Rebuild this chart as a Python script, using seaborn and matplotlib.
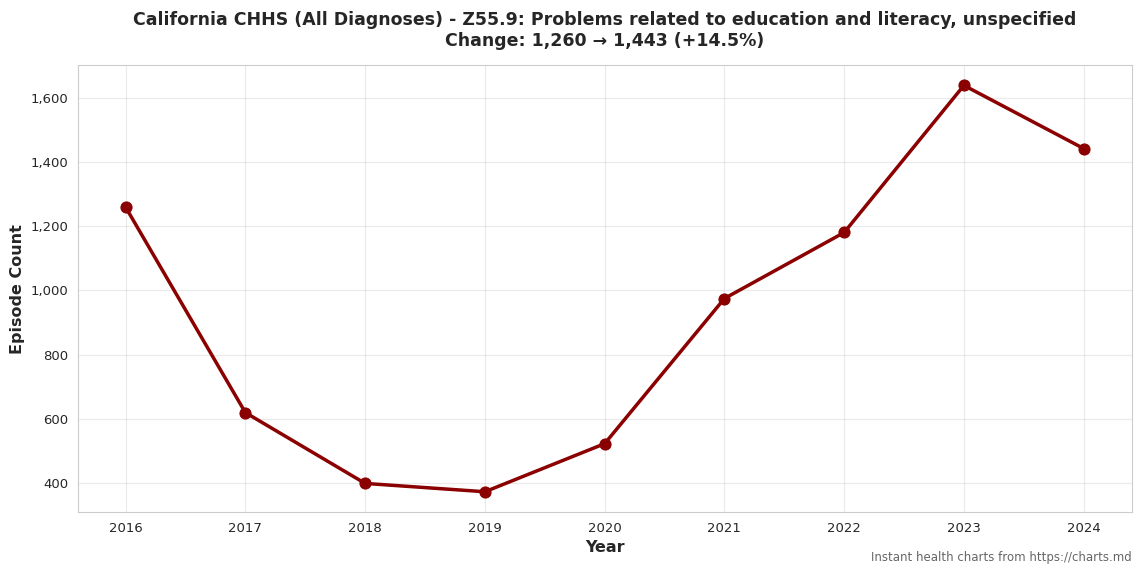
import pandas as pd
import matplotlib
matplotlib.use("Agg")
import matplotlib.pyplot as plt
import matplotlib.ticker as mticker
import seaborn as sns

years = [2016, 2017, 2018, 2019, 2020, 2021, 2022, 2023, 2024]
episodes = [1260, 619, 398, 372, 522, 975, 1181, 1640, 1443]

df = pd.DataFrame({"Year": years, "Episode Count": episodes})

sns.set_style("whitegrid")
plt.rcParams["font.family"] = ["DejaVu Sans"]

fig, ax = plt.subplots(figsize=(11.43, 5.76), dpi=100)
sns.lineplot(data=df, x="Year", y="Episode Count", color="darkred", linewidth=2.5,
             marker="o", markersize=8, markeredgecolor="darkred", ax=ax)

first, last = episodes[0], episodes[-1]
pct = (last - first) / first * 100
ax.set_title("California CHHS (All Diagnoses) - Z55.9: Problems related to education and literacy, unspecified\n"
             f"Change: {first:,} \u2192 {last:,} ({pct:+.1f}%)",
             fontsize=12.5, fontweight="bold", pad=14)
ax.set_xlabel("Year", fontsize=11.5, fontweight="bold")
ax.set_ylabel("Episode Count", fontsize=11.5, fontweight="bold")
ax.set_xticks(years)
ax.yaxis.set_major_formatter(mticker.FuncFormatter(lambda v, p: f"{v:,.0f}"))
ax.tick_params(labelsize=9.5)
ax.grid(True, alpha=0.4)
for s in ax.spines.values():
    s.set_color("#cccccc")

fig.subplots_adjust(left=0.068, right=0.990, top=0.887, bottom=0.111)
fig.text(0.99, 0.02, "Instant health charts from https://charts.md", ha="right", va="bottom",
         fontsize=8.5, color="#666666")
fig.savefig("out.png", dpi=100)
